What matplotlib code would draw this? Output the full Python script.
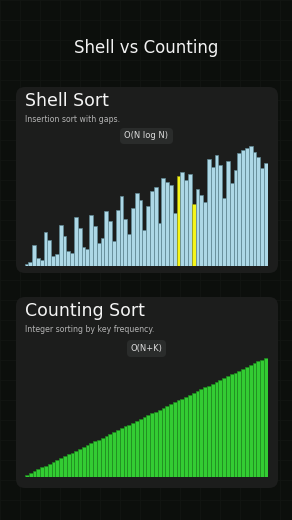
import matplotlib
matplotlib.use("Agg")
import matplotlib.pyplot as plt
from matplotlib.patches import FancyBboxPatch

# data
shell_values = [1, 2, 11, 4, 3, 18, 14, 5, 6, 22, 16, 8, 7, 26, 20, 10,
                9, 27, 21, 12, 15, 29, 24, 13, 30, 37, 25, 17, 31, 39, 35, 19,
                32, 40, 42, 23, 47, 45, 43, 28, 48, 50, 46, 49, 33, 41, 38, 34,
                57, 53, 59, 54, 36, 56, 44, 51, 60, 62, 63, 64, 61, 58, 52, 55]
shell_active = [40, 44]
counting_values = [1, 2, 3, 4, 5, 6, 7, 8, 9, 10, 11, 12, 13, 14, 15, 16,
                   17, 18, 19, 20, 21, 22, 23, 24, 25, 26, 27, 28, 29, 30, 31, 32,
                   33, 34, 35, 36, 37, 38, 39, 40, 41, 42, 43, 44, 45, 46, 47, 48,
                   49, 50, 51, 52, 53, 54, 55, 56, 57, 58, 59, 60, 61, 62, 63, 64]

title = "Shell vs Counting"
panels = [
    {"name": "Shell Sort", "desc": "Insertion sort with gaps.", "badge": "O(N log N)"},
    {"name": "Counting Sort", "desc": "Integer sorting by key frequency.", "badge": "O(N+K)"},
]

W, H = 292, 520
fig = plt.figure(figsize=(W / 100, H / 100), dpi=100)
fig.patch.set_facecolor("#0c0f0c")

bg = fig.add_axes([0, 0, 1, 1])
bg.set_xlim(0, W)
bg.set_ylim(H, 0)
bg.axis("off")

# faint grid in the background
for gx in range(0, W, 20):
    bg.axvline(gx, color="#121612", lw=0.6, zorder=0)
for gy in range(0, H, 20):
    bg.axhline(gy, color="#121612", lw=0.6, zorder=0)

bg.text(W / 2, 48, title, color="#f2f2f2", fontsize=12, ha="center", va="center",
        fontweight="medium")

panel_boxes = [(16, 87, 262, 186), (16, 297, 262, 191)]
badge_boxes = [(120, 128, 53, 16), (127, 340, 39, 17)]
for p, (x, y, w, h), (bx, by, bw, bh) in zip(panels, panel_boxes, badge_boxes):
    bg.add_patch(FancyBboxPatch((x, y), w, h, boxstyle="round,pad=0,rounding_size=9",
                                fc="#1c1d1c", ec="none", zorder=1))
    bg.text(x + 9, y + 14, p["name"], color="#f5f5f5", fontsize=12.5,
            ha="left", va="center", zorder=2)
    bg.text(x + 9, y + 33, p["desc"], color="#b5b5b5", fontsize=5.6,
            ha="left", va="center", zorder=2)
    bg.add_patch(FancyBboxPatch((bx, by), bw, bh, boxstyle="round,pad=0,rounding_size=4",
                                fc="#2a2c2b", ec="none", zorder=2))
    bg.text(bx + bw / 2, by + bh / 2, p["badge"], color="#dddddd", fontsize=6,
            ha="center", va="center", zorder=3)

# bar charts
def bar_axes(left, base, top):
    ax = fig.add_axes([left / W, (H - base) / H, (267.7 - left) / W, (base - top) / H])
    ax.set_facecolor("none")
    ax.axis("off")
    return ax

ax1 = bar_axes(24.7, 265.7, 146.0)
colors = ["#f5f51a" if i in shell_active else "#add8e6" for i in range(len(shell_values))]
edges = ["#9a9a10" if i in shell_active else "#5f8793" for i in range(len(shell_values))]
ax1.bar(range(len(shell_values)), shell_values, width=1.0, color=colors,
        edgecolor=edges, linewidth=0.5)
ax1.set_xlim(-0.5, len(shell_values) - 0.5)
ax1.set_ylim(0, 64)

ax2 = bar_axes(25.0, 476.7, 357.7)
ax2.bar(range(len(counting_values)), counting_values, width=1.0, color="#33cc33",
        edgecolor="#1f8a1f", linewidth=0.5)
ax2.set_xlim(-0.5, len(counting_values) - 0.5)
ax2.set_ylim(0, 64)

fig.savefig("out.png", dpi=100, facecolor=fig.get_facecolor())
